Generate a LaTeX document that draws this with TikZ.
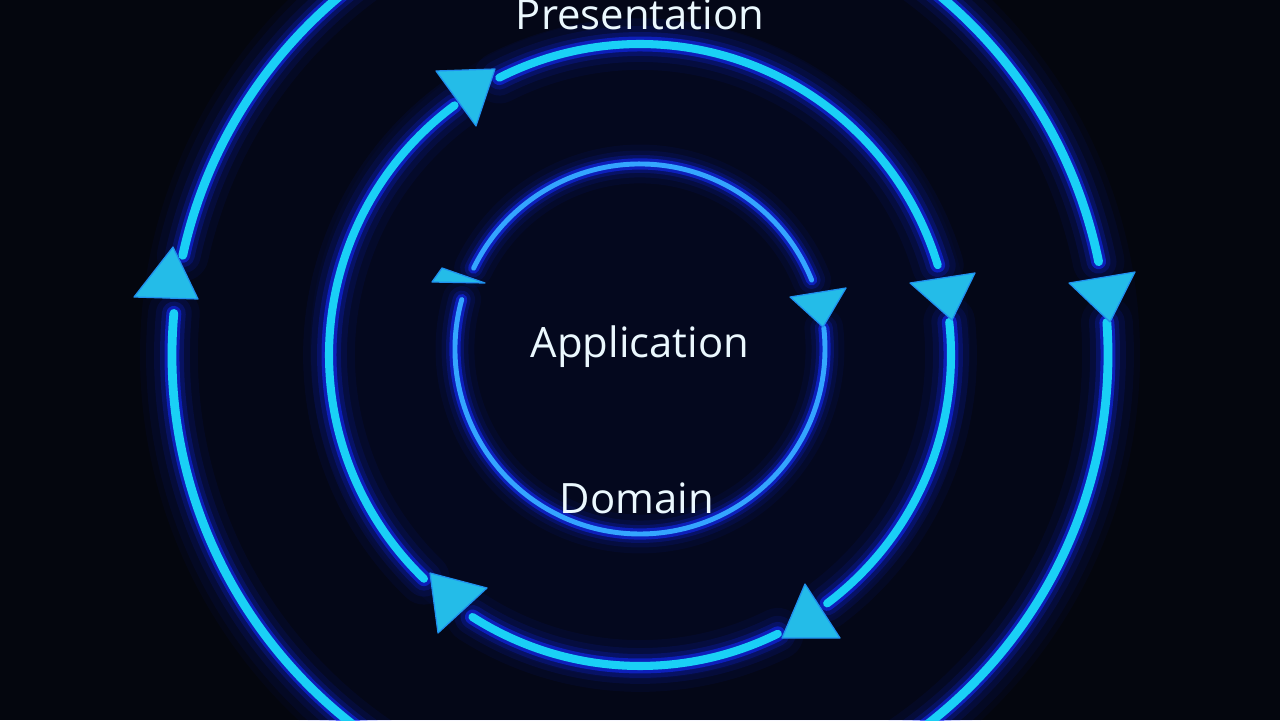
\documentclass[tikz,border=0pt]{standalone}
\usepackage{fontspec}
\setmainfont{Open Sans}
\usetikzlibrary{calc}
\definecolor{bg}{RGB}{4,6,14}
\definecolor{neon}{RGB}{26,208,246}
\definecolor{neoninner}{RGB}{52,165,255}
\definecolor{glowblue}{RGB}{18,42,255}
\definecolor{tipcyan}{RGB}{36,188,232}
\tikzset{ringtext/.style={anchor=base,inner sep=0mm,text=white!92!cyan,font=\fontsize{23.8}{28}\selectfont}}
\tikzset{halo/.style={draw=glowblue,line cap=round}}
\tikzset{core/.style={draw=neon,line cap=round,line width=5pt}}
\tikzset{core inner/.style={draw=neoninner,line cap=round,line width=2.8pt}}
\tikzset{tipmark/.style={fill=tipcyan,draw=glowblue!30!tipcyan,line width=0.7pt,line join=round}}

\begin{document}
\begin{tikzpicture}[x=0.02cm,y=0.02cm]
\fill[bg] (0,0) rectangle (1280,720);
\useasboundingbox (0,0) rectangle (1280,720);
\clip (0,0) rectangle (1280,720);

\coordinate (c) at (640,365);
\coordinate (ci) at (640,371);

% soft haze
\fill[glowblue,opacity=0.04] (c) circle (500);
\fill[glowblue,opacity=0.03] (ci) circle (330);

% glow layers
\foreach \w/\o in {52/0.06,36/0.1,24/0.2,15/0.55} {
  \foreach \a/\b in {11.5/167.7,174.9/364}
    \draw[halo,line width=\w*0.567pt,opacity=\o] ([shift=(\a:468)]c) arc (\a:\b:468);
  \foreach \a/\b in {16.8/116.9,126.6/226,237.4/296.3,307/366.1}
    \draw[halo,line width=\w*0.567pt,opacity=\o] ([shift=(\a:311)]c) arc (\a:\b:311);
  \foreach \a/\b in {21.9/154.1,164.5/366.5}
    \draw[halo,line width=0.75*\w*0.567pt,opacity=\o] ([shift=(\a:185)]ci) arc (\a:\b:185);
}

% outer ring
\draw[core] ([shift=(11.5:468)]c) arc (11.5:167.7:468);
\draw[core] ([shift=(174.9:468)]c) arc (174.9:364:468);

% middle ring
\draw[core,line width=4.6pt] ([shift=(16.8:311)]c) arc (16.8:116.9:311);
\draw[core,line width=4.6pt] ([shift=(126.6:311)]c) arc (126.6:226:311);
\draw[core,line width=4.6pt] ([shift=(237.4:311)]c) arc (237.4:296.3:311);
\draw[core,line width=4.6pt] ([shift=(307:311)]c) arc (307:366.1:311);

% inner ring
\draw[core inner] ([shift=(21.9:185)]ci) arc (21.9:154.1:185);
\draw[core inner] ([shift=(164.5:185)]ci) arc (164.5:366.5:185);

% arrow heads
\filldraw[tipmark] (173,473) -- (134,423) -- (198,421) -- cycle;
\filldraw[tipmark] (1069,437) -- (1135,448) -- (1110,398) -- cycle;
\filldraw[tipmark] (436,649) -- (495,651) -- (476,594) -- cycle;
\filldraw[tipmark] (910,437) -- (975,447) -- (952,400) -- cycle;
\filldraw[tipmark] (430,147) -- (438,87) -- (487,132) -- cycle;
\filldraw[tipmark] (805,136) -- (782,82) -- (840,82) -- cycle;
\filldraw[tipmark] (790,423) -- (846,432) -- (823,393) -- cycle;
\filldraw[tipmark] (432,438) -- (442,452) -- (485,437) -- cycle;

% labels
\node[ringtext] (pres) at (640,690) {Presentation};
\node[ringtext] (app) at (640,362) {Application};
\node[ringtext] (dom) at (637,206) {Domain};

\end{tikzpicture}
\end{document}
